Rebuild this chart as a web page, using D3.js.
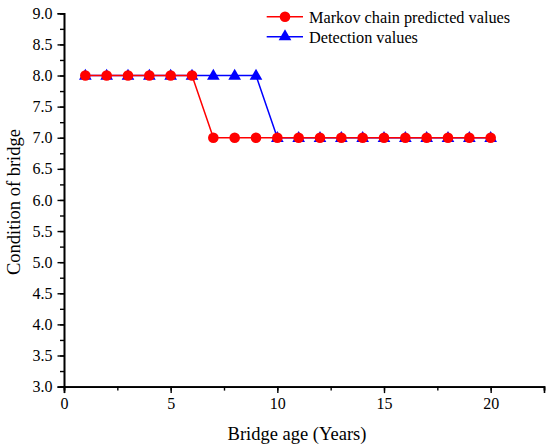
<!DOCTYPE html>
<html><head><meta charset="utf-8">
<script src="https://cdn.jsdelivr.net/npm/d3@7"></script>
<style>body{margin:0;background:#fff}svg{display:block}text{font-family:"Liberation Serif","Times New Roman","DejaVu Serif",serif;fill:#000}</style>
</head><body>
<svg id="c" width="550" height="447"></svg>
<script>
const years = d3.range(1, 21);
const markovValues = [8,8,8,8,8,8,7,7,7,7,7,7,7,7,7,7,7,7,7,7];
const detectionValues = [8,8,8,8,8,8,8,8,8,7,7,7,7,7,7,7,7,7,7,7];
const xTicks = [0,5,10,15,20];
const yTicks = [3.0,3.5,4.0,4.5,5.0,5.5,6.0,6.5,7.0,7.5,8.0,8.5,9.0];
const seriesNames = ["Markov chain predicted values","Detection values"];

const svg = d3.select("#c");
const L = 64, R = 544, T = 13.3, B = 386.6;
const x = d3.scaleLinear().domain([0, 22.5]).range([L, R]);
const y = d3.scaleLinear().domain([3, 9]).range([B, T]);
const serif = '"Liberation Serif","Times New Roman","DejaVu Serif",serif';

const xa = svg.append("g").attr("transform", `translate(0,${B})`);
xa.call(d3.axisBottom(x).tickValues(d3.range(0, 22.6, 2.5)).tickSize(4).tickFormat(""));
const xb = svg.append("g").attr("transform", `translate(0,${B})`);
xb.call(d3.axisBottom(x).tickValues(xTicks).tickSize(6.5).tickPadding(5).tickFormat(d3.format("d")));
const ya = svg.append("g").attr("transform", `translate(${L},0)`);
ya.call(d3.axisLeft(y).tickValues(d3.range(3, 9.01, 0.25)).tickSize(4).tickFormat(""));
const yb = svg.append("g").attr("transform", `translate(${L},0)`);
yb.call(d3.axisLeft(y).tickValues(yTicks).tickSize(6.5).tickPadding(5).tickFormat(d3.format(".1f")));
svg.selectAll("g").attr("font-family", serif);
svg.selectAll(".domain").attr("stroke","#000").attr("stroke-width",1.6);
svg.selectAll(".tick line").attr("stroke","#000").attr("stroke-width",1.4);
svg.selectAll(".tick text").style("font-size","16px").style("font-family", serif);

svg.append("text").attr("x", 297).attr("y", 440).attr("text-anchor","middle").style("font-size","18.5px").text("Bridge age (Years)");
svg.append("text").attr("transform","translate(20,202) rotate(-90)").attr("text-anchor","middle").style("font-size","18.5px").text("Condition of bridge");

const line = d3.line().x(d => x(d[0])).y(d => y(d[1]));
const tri = d3.symbol().type(d3.symbolTriangle).size(70);

const det = years.map((yr,i) => [yr, detectionValues[i]]);
svg.append("path").datum(det).attr("d", line).attr("fill","none").attr("stroke","#0000ff").attr("stroke-width",1.5);
svg.selectAll(".tri").data(det).join("path").attr("class","tri")
  .attr("d", tri).attr("transform", d => `translate(${x(d[0])},${y(d[1])+0.5})`).attr("fill","#0000ff");

const mk = years.map((yr,i) => [yr, markovValues[i]]);
svg.append("path").datum(mk).attr("d", line).attr("fill","none").attr("stroke","#ff0000").attr("stroke-width",1.5);
svg.selectAll(".dot").data(mk).join("circle").attr("class","dot")
  .attr("cx", d => x(d[0])).attr("cy", d => y(d[1])).attr("r", 5.3).attr("fill","#ff0000");

const lg = svg.append("g");
const ly = [16.7, 36.7];
lg.append("line").attr("x1",266.7).attr("x2",303).attr("y1",ly[0]).attr("y2",ly[0]).attr("stroke","#ff0000").attr("stroke-width",1.5);
lg.append("circle").attr("cx",285).attr("cy",ly[0]).attr("r",5.3).attr("fill","#ff0000");
lg.append("line").attr("x1",266.7).attr("x2",303).attr("y1",ly[1]).attr("y2",ly[1]).attr("stroke","#0000ff").attr("stroke-width",1.5);
lg.append("path").attr("d",tri).attr("transform",`translate(285,${ly[1]})`).attr("fill","#0000ff");
seriesNames.forEach((n,i) => lg.append("text").attr("x",309).attr("y",ly[i]+5.8).style("font-size","16.3px").text(n));
</script>
</body></html>
